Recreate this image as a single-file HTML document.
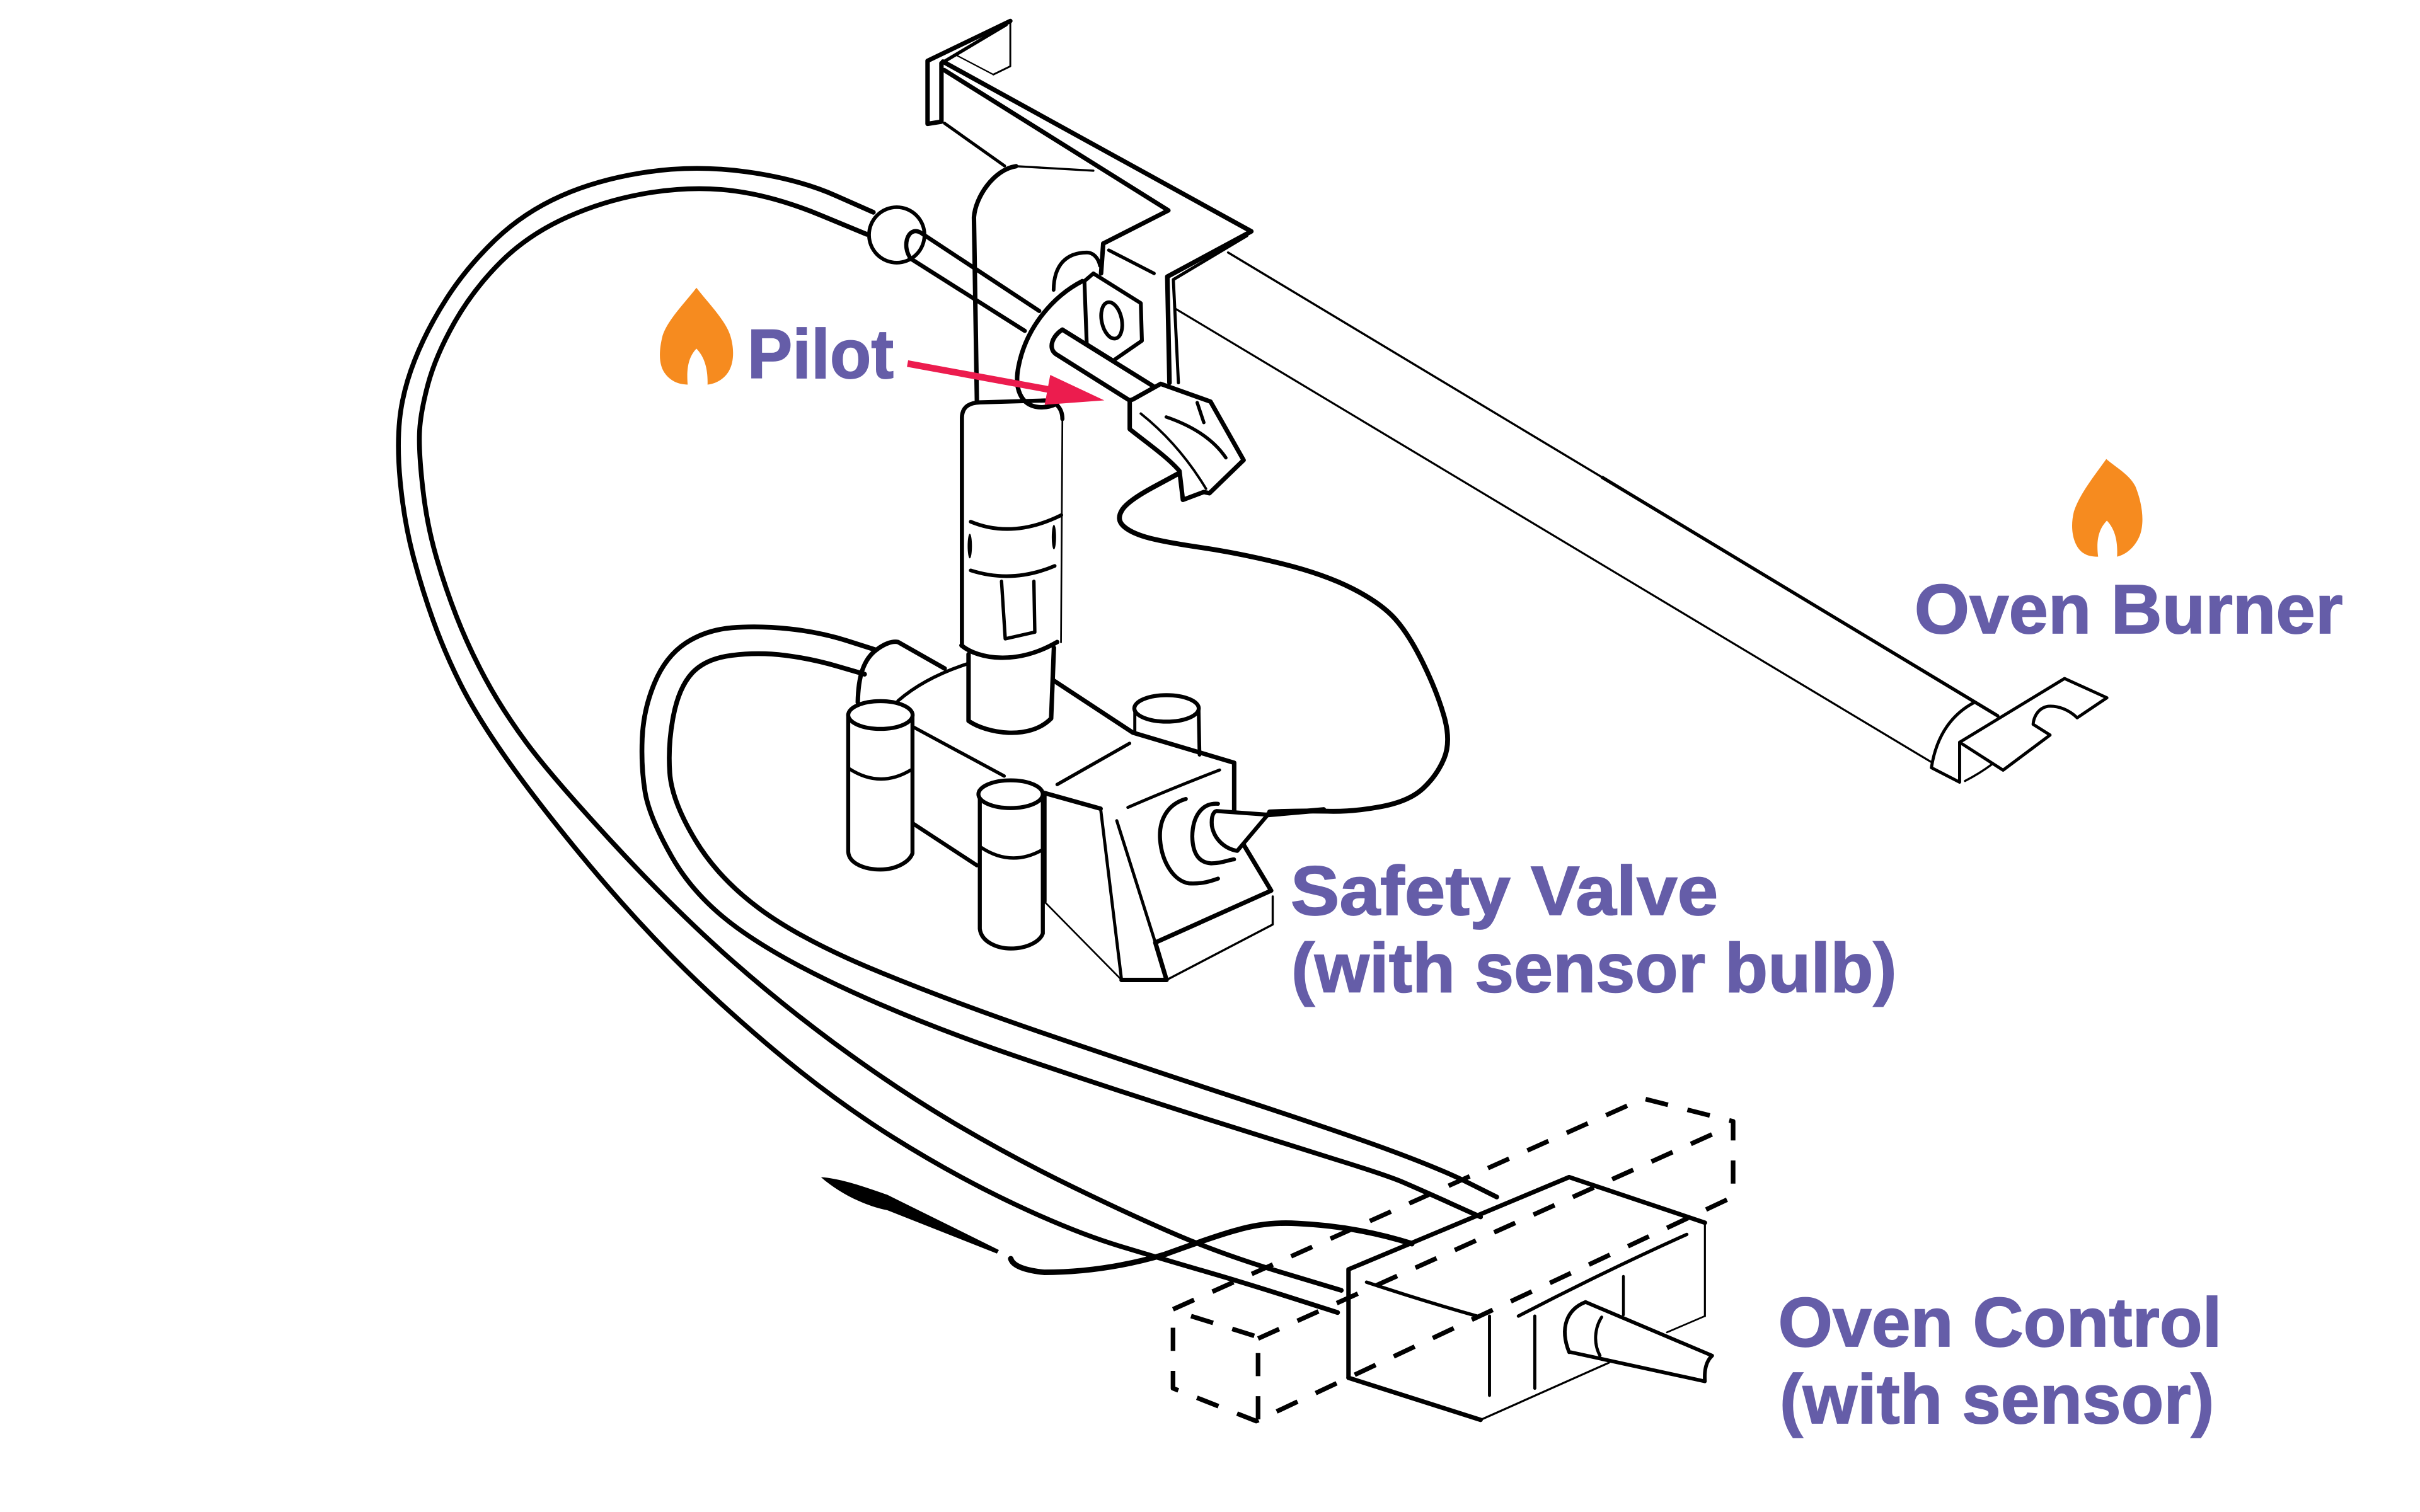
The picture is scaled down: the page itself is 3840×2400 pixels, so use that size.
<!DOCTYPE html>
<html><head><meta charset="utf-8"><title>Oven gas safety system</title><style>
html,body{margin:0;padding:0;background:#fff;}
svg{display:block;}
text{font-family:"Liberation Sans",Arial,sans-serif;font-weight:bold;fill:#655DA8;stroke:#655DA8;stroke-width:0.7px;font-size:45px;}
</style></head><body>
<svg width="3840" height="2400" viewBox="0 0 1570.6 981.6" xmlns="http://www.w3.org/2000/svg">
<rect width="1570.6" height="981.6" fill="#fff"/>
<g fill="none" stroke="#000" stroke-width="2.9" stroke-linecap="round" stroke-linejoin="round">

<!-- big outer tube -->
<path d="M566.8,137.8 L542.4,127 Q518,116.2 485,111.6 Q452,107 420.5,111.6 Q389,116.2 364.5,127 Q340,137.8 321.4,155.7 Q302.8,173.6 289.9,193.7 Q277,213.8 269.1,233.9 Q261.2,254 259.35,272.65 Q257.5,291.3 260.05,315.65 Q262.6,340 268.3,361.5 Q274,383 281.25,403.15 Q288.5,423.3 298.5,443.4 Q308.5,463.5 326.75,489.75 Q345,516 374.35,551.85 Q403.7,587.7 433.05,617.85 Q462.4,648 501.55,681 Q540.7,714 579.8,738.5 Q618.9,763 657.95,781.5 Q697,800 726.8,809 Q756.6,818 782.45,825.5 Q808.3,833 838.2,842.55 L868.1,852.1" stroke-width="3.1"/>
<path d="M562.5,152.1 L533.1,139.9 Q503.7,127.7 477.85,124.1 Q452,120.5 423.3,124.85 Q394.6,129.2 368.8,140.65 Q343,152.1 325,170.05 Q307,188 294.85,209.5 Q282.7,231 277.7,249.7 Q272.7,268.4 272.25,281.3 Q271.8,294.2 274.4,317.1 Q277,340 282.75,360.15 Q288.5,380.3 296.35,400.4 Q304.2,420.5 315,440.55 Q325.8,460.6 341.4,481.8 Q357,503 396,545.35 Q435,587.7 470.2,619.25 Q505.4,650.8 544.55,679.5 Q583.7,708.2 620.85,730.1 Q658,752 697.15,771 Q736.3,790 765.65,802.5 Q795,815 832.75,826.35 L870.5,837.7" stroke-width="3.1"/>

<!-- inner loop tube -->
<path d="M568.3,421.9 L550.35,416.15 Q532.4,410.4 512.3,408.25 Q492.2,406.1 475,407.55 Q457.8,409 444.9,417.6 Q432,426.2 424.8,443.4 Q417.6,460.6 416.8,479.3 Q416,498 418.65,514.15 Q421.3,530.3 435.95,556.15 Q450.6,582 478,602.05 Q505.4,622.1 552.35,643.65 Q599.3,665.2 658,685.25 Q716.7,705.3 775.4,723.95 Q834.1,742.6 867.05,752.8 Q900,763 910.5,767.5 Q921,772 940.95,781 L960.9,790" stroke-width="3.1"/>
<path d="M561.1,437.7 L543.9,432.65 Q526.7,427.6 509.45,425.45 Q492.2,423.3 475,425.45 Q457.8,427.6 449.2,436.95 Q440.6,446.3 437,464.95 Q433.4,483.6 434.7,501.8 Q436,520 451.15,545.2 Q466.3,570.4 493.7,590.5 Q521.1,610.6 570,630.7 Q618.9,650.8 677.6,670.9 Q736.3,691 802.8,712.85 Q869.3,734.7 902.15,746.8 Q935,758.9 953.2,768 L971.4,777.1" stroke-width="3.1"/>

<!-- burner long lines -->
<path d="M797,163.9 L1040,310" stroke-width="1.4"/>
<path d="M1040,310 L1296.5,464.7" stroke-width="2.2"/>
<path d="M763,200.5 L1253,494.5" stroke-width="1.3"/>
<!-- burner end -->
<path d="M1281.2,456.1 C1268,463 1257,476 1253.5,498.4 L1271.8,507.8 L1271.8,481.9" stroke-width="2"/>
<path d="M1271.8,481.9 L1339.9,440.5 L1367.4,453 L1348.1,466 C1343,461 1336,458 1329.3,458.5 C1323,459.5 1320,465 1319.5,470.2 L1330.5,477.2 L1300,500 Z" stroke-width="2" fill="#fff"/>
<path d="M1275.3,507 Q1285,502 1293,496" stroke-width="1.4"/>

<!-- top bracket -->
<path d="M611,41 L611,79 L602,80.4 L602,39.5 L655.7,13.6" stroke-width="2.9"/>
<path d="M611,41 L653,16" stroke-width="2.2"/>
<path d="M655.7,13.6 L655.7,43 L644.7,48.4" stroke-width="1.2"/>
<path d="M621,36 L644.7,48.4" stroke-width="0.9"/>
<path d="M612,40 L812.1,150.2 L757.6,179.6 L759,248.5" stroke-width="3"/>
<path d="M809.2,153 L761.5,181.5 L764.8,248.5" stroke-width="2"/>
<path d="M612.8,45.5 L758.3,136.6 L716,158.1 L714.6,177.5" stroke-width="2.9"/>
<path d="M613,80 L652,107.7" stroke-width="2"/>
<path d="M719.6,162.4 L749,177.5" stroke-width="2.2"/>

<!-- pilot bracket -->
<path d="M634,260 L632.1,141 C633,128 645,110 659.4,107.9" stroke-width="2.9"/>
<path d="M659.4,107.9 L709.6,110.8" stroke-width="1.4"/>
<path d="M683.8,188.2 C684,172 692,164 705.3,163.9 C710,164 713,168 713.9,172.5" stroke-width="2.4"/>

<!-- ball + pilot tube -->
<circle cx="582" cy="152.5" r="18" fill="#fff" stroke-width="2.4"/>
<path d="M674.5,201.9 L597,150.7 C589,147 585,160 591.2,168 L665.1,214.8" stroke-width="2.7"/>

<!-- ring -->
<path d="M702.4,182.5 C684,192 666,212 661,238 C658,253 663,262 672,264 C677,265 682,264 686,262" stroke-width="2.9"/>
<!-- hex plate -->
<path d="M703.8,182.5 L709.6,177.5 L740.4,196.8 L741.1,221.2 L722.5,234.1 L705.3,223.4 Z" stroke-width="2.5" fill="#fff"/>
<ellipse cx="721.5" cy="208" rx="6.5" ry="12" transform="rotate(-12 721.5 208)" stroke-width="2.4"/>
<!-- rod -->
<path d="M748.3,250.6 L689.5,214 C683,218 680,226 685.2,229.8 L733.2,260" stroke-width="2.9" fill="#fff"/>
<!-- hood -->
<path d="M735.4,259.2 L753.3,249.2 L785.6,260.7 L807.1,298.7 L784.9,320.2 L781.3,319.4 L767.7,324.5 L765.5,305.8 C758,297 745,288 733.2,278.6 L733.2,260 Z" stroke-width="2.9" fill="#fff"/>
<path d="M740.4,268.5 Q765.5,288.6 782.7,317.3" stroke-width="1.6"/>
<path d="M756.9,270.7 Q784,280 795.6,297.2" stroke-width="2.2"/>
<path d="M777,261.4 L781.3,274.3" stroke-width="2.2"/>

<!-- thermocouple wire -->
<path d="M764.7,307.5 L748.25,316.4 Q731.8,325.3 728.15,331.25 Q724.5,337.2 729.05,341.45 Q733.6,345.7 743.65,348.65 Q753.7,351.6 779.3,355.4 Q804.9,359.2 832.25,366 Q859.6,372.8 877.9,382.15 Q896.2,391.5 905.3,401.65 Q914.4,411.8 923.55,430.45 Q932.7,449.1 937.25,465.2 Q941.8,481.3 937.25,492.35 Q932.7,503.4 923.55,511.85 Q914.4,520.3 896.15,523.7 Q877.9,527.1 861.45,526.65 Q845,526.2 824,527.1" stroke-width="3.2"/>

<!-- column -->
<path d="M624.3,419 L624.3,271 C624.5,264 629,261.5 636,261.2 L678,260 C685,260 689.5,265 689.5,272" stroke-width="2.7"/>
<path d="M689.5,272 L688.6,417" stroke-width="1.1"/>
<path d="M624,419 C635,428 660,432 686.1,416.8" stroke-width="2.9"/>
<path d="M628.6,424.7 L628.6,468 C640,476 668,481 682.2,466.4 L684,420.5" stroke-width="2.9"/>
<path d="M630,338.7 Q657.3,350 688.8,334.4" stroke-width="2.4"/>
<path d="M630,370.3 Q657,379 684.5,367.4" stroke-width="2.4"/>
<path d="M650,377.4 L652.4,414.7 L671.6,410.4 L671,377.4" stroke-width="2.2"/>
<ellipse cx="629.4" cy="354.5" rx="1.4" ry="8" fill="#000" stroke="none"/>
<ellipse cx="684" cy="348.7" rx="1.4" ry="8" fill="#000" stroke="none"/>

<!-- valve body -->
<path d="M556.7,456 C557,440 560,428 569.3,421.5 C574,418 579,416 582.8,416.8 L613.1,434" stroke-width="2.9"/>
<path d="M582.8,455 Q600,440 627.7,431" stroke-width="2.2"/>
<path d="M684,441.9 L735.2,475.6 L801,495.2 L801,527.3" stroke-width="2.9"/>
<path d="M592.2,471.7 L651.7,503.8" stroke-width="2.2"/>
<path d="M592.2,534.4 L634,561.8" stroke-width="2.6"/>
<path d="M686.1,509.3 L733.1,482.6" stroke-width="2.2"/>
<path d="M677.8,585.3 L677.8,514.8 L714.3,525" stroke-width="2.9"/>
<path d="M714.3,525 L727.9,636.2" stroke-width="2"/>
<path d="M677.8,585.3 L727.9,636.2" stroke-width="1.1"/>
<path d="M727.9,636.2 L757.1,636.2 L749.8,611.9 L825,578.2 L807.2,548.5" stroke-width="2.9"/>
<path d="M724.8,532.8 L749.8,611.9" stroke-width="2"/>
<path d="M757.1,636.2 L826,600.2 L826,582" stroke-width="1.4"/>
<path d="M791.5,499.9 Q760,512 732,524.2" stroke-width="2"/>
<!-- valve knob -->
<path d="M769.6,518.7 C758,522 752,532 752.9,545 C754,560 762,572 771.7,573.5 C780,574 786,572 790.5,570.4" stroke-width="2.6"/>
<path d="M790.5,521.8 C780,521 774,530 773.8,543 C774,554 778,560 786,560.5 C793,560.5 798,558 800.9,557.9" stroke-width="2.6"/>
<path d="M789.5,526.5 L822.8,528.9 L803,552.4 C795,551 788,545 786.5,536 C786,530 787.5,527 789.5,526.5 Z" stroke-width="2.6" fill="#fff"/>
<path d="M822.8,528.9 L859,525.7" stroke-width="3.4"/>

<!-- cylinders -->
<path d="M550.5,464 L550.5,553 C551,561 562,564.5 571.4,564.5 C581,564.5 590,560 592.2,554 L592.2,464 Z" fill="#fff" stroke-width="2.6"/>
<path d="M551,499 Q571,512 591,500" stroke-width="2.2"/>
<ellipse cx="571.4" cy="464.2" rx="20.9" ry="9" fill="#fff" stroke-width="2.6"/>
<path d="M635.9,516 L635.9,603 C637,612 648,615.8 656,615.8 C667,615.8 675,611 676.8,606 L676.8,516 Z" fill="#fff" stroke-width="2.6"/>
<path d="M636.5,550 Q656,563 676,552" stroke-width="2.2"/>
<ellipse cx="655.9" cy="515.6" rx="20.9" ry="9" fill="#fff" stroke-width="2.6"/>
<path d="M736.5,460 L736.5,476" stroke-width="2"/>
<path d="M777.9,460 L778.5,490" stroke-width="2.4"/>
<ellipse cx="757.1" cy="459.9" rx="20.9" ry="8.6" fill="#fff" stroke-width="2.6"/>

<!-- oven control box -->
<path d="M875.2,894.5 L875.2,824.1 L1018.4,764.2 L1106.5,793.8" stroke-width="2.9"/>
<path d="M1106.5,793.8 L1106.5,854.4" stroke-width="1.3"/>
<path d="M875.2,894.5 L960.9,921.8" stroke-width="2.9"/>
<path d="M960.9,921.8 L1044.2,884.7" stroke-width="1.3"/>
<path d="M1081.8,865 L1106.5,854.4" stroke-width="1.1"/>
<path d="M886.9,832.4 Q925,845 958.5,854.4" stroke-width="2.2"/>
<path d="M985.5,854.4 Q1040,826 1094.7,801.4" stroke-width="2.2"/>
<path d="M966.7,854.4 L966.7,905.9" stroke-width="2"/>
<path d="M996.1,854.4 L996.1,901.3" stroke-width="2"/>
<path d="M1053.6,828.6 L1053.6,853.6" stroke-width="1.8"/>
<path d="M1029,845.3 L1111.2,880.1 C1107,884 1106,890 1106.5,896.8 L1019.6,877.9" stroke-width="2.4" fill="#fff"/>
<path d="M1029,845.3 C1017,850 1012,862 1018.4,877.9" stroke-width="2.4"/>
<path d="M1039.5,855.1 C1035,862 1034,872 1038.4,880.1" stroke-width="2"/>

<!-- dashed hidden outline -->
<g stroke-dasharray="15 13" stroke-linecap="butt" stroke-width="3">
<path d="M761.3,850 L1066.5,713.2 L1124.8,728 L1124.8,777 L815.3,922.6 L761.3,901.3 Z"/>
<path d="M773,854.4 L816.5,868 L816.5,922"/>
<path d="M816.5,869 L1121.7,731.7"/>
</g>

<!-- probe wire -->
<path d="M656,817.2 Q658,824 677.6,826 Q716.7,826 755.9,814.4 Q790,802 802.8,798.6 Q822,793 841.9,794.3 Q880,796 916.3,807.4" stroke-width="3.6"/>
</g>

<!-- probe -->
<path d="M532.8,764.2 C545,765 560,770 575.9,775.7 L648.3,811.5 L647,813.8 L575.9,785.7 C562,783 545,775 532.8,764.2 Z" fill="#000"/>

<!-- flames -->
<path d="M452,186.8 C445,196 433,208 430,218 C427,230 428,238 432,243 C436,248 441,249.5 446.3,249.7 C445.5,240 446.5,232 452,226.3 C457.5,232 459.5,240 459.2,249.7 C465,249 470,246 473,241 C476.5,235 476.5,226 474,218 C471,208 459,196 452,186.8 Z" fill="#F68B1F"/>
<path d="M1367,298 C1360,308 1350,320 1346,332 C1343,344 1346,355 1352,359 C1355,361 1358,361.4 1361.7,361.4 C1360.5,352 1361.5,344 1367.4,338 C1373,344 1374.5,352 1374,361.4 C1380,360 1386,355 1389,347 C1392,338 1390,326 1386,316 C1382,308 1374,304 1367,298 Z" fill="#F68B1F"/>

<!-- arrow -->
<line x1="589" y1="236" x2="684" y2="253.5" stroke="#EC1C4E" stroke-width="4.3" stroke-linecap="butt"/>
<polygon points="681.6,243.4 716.7,259.9 678,262.8" fill="#EC1C4E"/>

<!-- labels -->
<text x="485" y="245.5" textLength="95" lengthAdjust="spacingAndGlyphs">Pilot</text>
<text x="1242.5" y="411" textLength="278" lengthAdjust="spacingAndGlyphs">Oven Burner</text>
<text x="837.6" y="593.8" textLength="277.5" lengthAdjust="spacingAndGlyphs">Safety Valve</text>
<text x="838" y="644" textLength="393" lengthAdjust="spacingAndGlyphs">(with sensor bulb)</text>
<text x="1154" y="874" textLength="288" lengthAdjust="spacingAndGlyphs">Oven Control</text>
<text x="1155" y="924" textLength="282" lengthAdjust="spacingAndGlyphs">(with sensor)</text>
</svg>
</body></html>
